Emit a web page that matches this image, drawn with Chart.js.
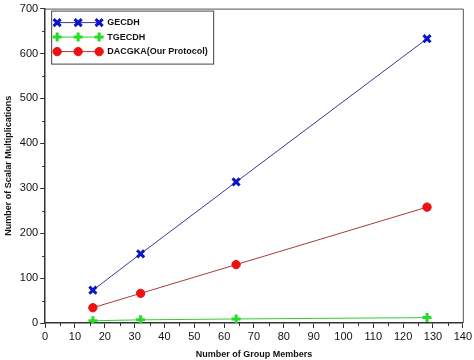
<!DOCTYPE html>
<html><head><meta charset="utf-8">
<script src="https://cdn.jsdelivr.net/npm/chart.js@4.4.0/dist/chart.umd.min.js"></script>
<style>html,body{margin:0;padding:0;background:#fff}#w{width:474px;height:360px}</style>
</head><body><div id="w"><canvas id="c"></canvas></div>
<script>
const groupMembers = [16, 32, 64, 128];
const gecdh = [73, 154, 314, 633];
const tgecdh = [5, 7, 9, 12];
const dacgka = [34, 66, 130, 258];
const seriesNames = ['GECDH', 'TGECDH', 'DACGKA(Our Protocol)'];
const xTitle = 'Number of Group Members';
const yTitle = 'Number of Scalar Multiplications';

const toPts = arr => arr.map((v, i) => ({x: groupMembers[i], y: v}));

const frame = {
  id: 'frame',
  afterDraw(chart) {
    const {ctx, chartArea: a, scales} = chart;
    ctx.save();
    ctx.strokeStyle = '#555';
    ctx.lineWidth = 1;
    ctx.beginPath();
    ctx.moveTo(a.left, a.top + 0.5); ctx.lineTo(a.right + 0.5, a.top + 0.5); ctx.lineTo(a.right + 0.5, a.bottom);
    ctx.stroke();
    // minor ticks
    ctx.strokeStyle = '#333';
    ctx.beginPath();
    for (let v = 5; v < 140; v += 10) {
      const px = Math.round(scales.x.getPixelForValue(v)) + 0.5;
      ctx.moveTo(px, a.bottom); ctx.lineTo(px, a.bottom + 3);
    }
    for (let v = 50; v < 700; v += 100) {
      const py = Math.round(scales.y.getPixelForValue(v)) + 0.5;
      ctx.moveTo(a.left, py); ctx.lineTo(a.left - 3, py);
    }
    ctx.stroke();
    // legend
    const lx = a.left + 6, ly = a.top + 2, lw = 162, lh = 53;
    ctx.strokeStyle = '#444';
    ctx.lineWidth = 1;
    ctx.strokeRect(lx + 0.5, ly + 0.5, lw, lh);
    chart.data.datasets.forEach((ds, i) => {
      const y = ly + 12 + i * 14.5;
      ctx.strokeStyle = ds.borderColor;
      ctx.lineWidth = 1;
      ctx.beginPath(); ctx.moveTo(lx + 6, y); ctx.lineTo(lx + 48, y); ctx.stroke();
      [lx + 6, lx + 27, lx + 48].forEach(px => {
        ctx.fillStyle = ds.pointBackgroundColor;
        ctx.strokeStyle = ds.pointBorderColor;
        ctx.lineWidth = ds.pointBorderWidth;
        Chart.helpers.drawPoint(ctx, {pointStyle: ds.pointStyle, radius: ds.pointRadius, borderWidth: ds.pointBorderWidth, rotation: 0}, px, y);
      });
      ctx.fillStyle = '#111';
      ctx.font = 'bold 9px "Liberation Sans", Arial, sans-serif';
      ctx.textBaseline = 'middle';
      ctx.fillText(ds.label, lx + 56, y);
    });
    ctx.restore();
  }
};

function ds(label, data, line, pt, style, r, bw) {
  return {label, data: toPts(data), borderColor: line, borderWidth: 1, backgroundColor: pt,
    pointBackgroundColor: pt, pointBorderColor: pt, pointStyle: style, pointRadius: r, pointBorderWidth: bw, pointHoverRadius: r};
}

new Chart(document.getElementById('c'), {
  type: 'line',
  data: {datasets: [
    ds(seriesNames[0], gecdh, '#3a3a8c', '#0a14c8', 'crossRot', 5, 3),
    ds(seriesNames[1], tgecdh, '#33cc33', '#22dd22', 'cross', 4.5, 3),
    ds(seriesNames[2], dacgka, '#a83a3a', '#ee1111', 'circle', 4.2, 1)
  ]},
  plugins: [frame],
  options: {
    responsive: true, maintainAspectRatio: false, animation: false,
    layout: {padding: {top: 4, right: 10, left: 3, bottom: 0}},
    plugins: {legend: {display: false}, tooltip: {enabled: false}},
    scales: {
      x: {type: 'linear', min: 0, max: 140,
        ticks: {stepSize: 10, color: '#111', padding: 2, font: {family: '"Liberation Sans", Arial, sans-serif', size: 11}},
        grid: {drawOnChartArea: false, tickLength: 5, color: '#333'},
        border: {color: '#333', width: 1.5},
        title: {display: true, text: xTitle, color: '#111', padding: {top: 4, bottom: 0}, font: {family: '"Liberation Sans", Arial, sans-serif', size: 9, weight: 'bold'}}
      },
      y: {min: 0, max: 700,
        ticks: {stepSize: 100, color: '#111', padding: 2, font: {family: '"Liberation Sans", Arial, sans-serif', size: 11}},
        grid: {drawOnChartArea: false, tickLength: 5, color: '#333'},
        border: {color: '#333', width: 1.5},
        title: {display: true, text: yTitle, color: '#111', padding: {top: 0, bottom: 4}, font: {family: '"Liberation Sans", Arial, sans-serif', size: 9, weight: 'bold'}}
      }
    }
  }
});
</script></body></html>
